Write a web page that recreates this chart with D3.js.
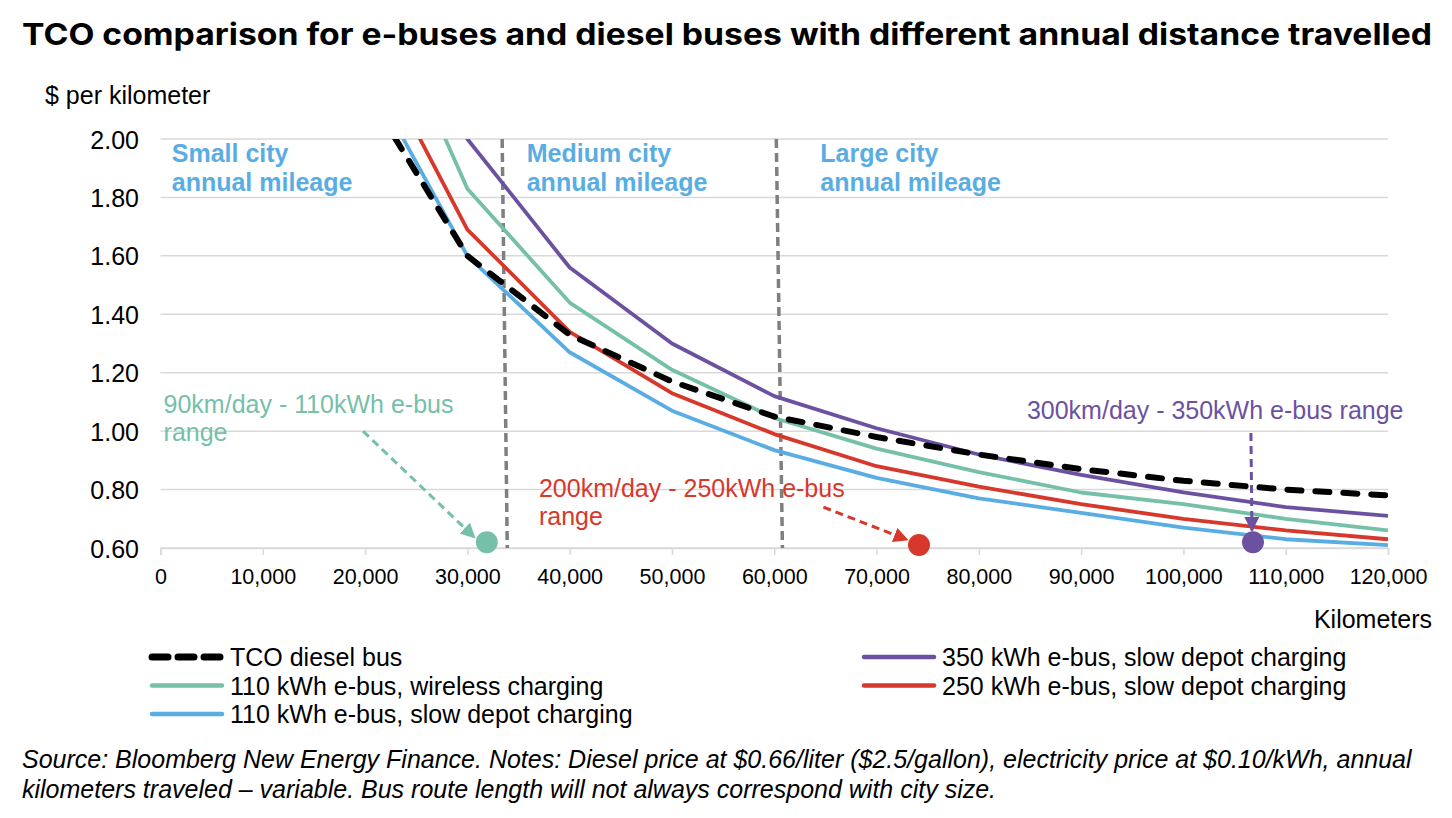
<!DOCTYPE html>
<html><head><meta charset="utf-8">
<script src="https://cdn.jsdelivr.net/npm/d3@7"></script>
<style>
html,body{margin:0;padding:0;background:#fff;}
svg{display:block;}
text{font-family:"Liberation Sans",Arial,sans-serif;}
</style></head>
<body><svg id="c" width="1452" height="818"></svg>
<script>
// ---- data ----
const distances = [20000, 30000, 40000, 50000, 60000, 70000, 80000, 90000, 100000, 110000, 120000];
const dieselBus     = [2.17, 1.60, 1.33, 1.17, 1.05, 0.98, 0.92, 0.87, 0.83, 0.80, 0.78];
const wireless110   = [2.62, 1.83, 1.44, 1.21, 1.045, 0.94, 0.86, 0.79, 0.75, 0.70, 0.66];
const depot110      = [2.24, 1.60, 1.27, 1.07, 0.935, 0.84, 0.77, 0.72, 0.67, 0.63, 0.61];
const depot350      = [2.80, 2.00, 1.56, 1.30, 1.12, 1.01, 0.92, 0.85, 0.79, 0.74, 0.71];
const depot250      = [2.36, 1.69, 1.34, 1.13, 0.99, 0.88, 0.81, 0.75, 0.70, 0.66, 0.63];
const seriesNames = ["TCO diesel bus", "110 kWh e-bus, wireless charging", "110 kWh e-bus, slow depot charging",
                     "350 kWh e-bus, slow depot charging", "250 kWh e-bus, slow depot charging"];
const xTicks = [0, 10000, 20000, 30000, 40000, 50000, 60000, 70000, 80000, 90000, 100000, 110000, 120000];
const yTicks = [0.60, 0.80, 1.00, 1.20, 1.40, 1.60, 1.80, 2.00];
// city boundaries (km at top, km at bottom of plot)
const cityBoundTop = [33400, 60200];
const cityBoundBottom = [33900, 60800];
const cityLabels = [["Small city", "annual mileage"], ["Medium city", "annual mileage"], ["Large city", "annual mileage"]];
const cityLabelKm = [1100, 35800, 64500];
// range annotations: text anchor, arrow start, arrow end, dot (km, $/km)
const rangeText = [["90km/day - 110kWh e-bus", "range"], ["200km/day - 250kWh e-bus", "range"], ["300km/day - 350kWh e-bus range"]];
const rangeTextKm = [300, 37000, 84700];
const rangeTextVal = [1.063, 0.775, 1.04];
const arrowFromKm = [19800, 64800, 106600];
const arrowFromVal = [1.00, 0.74, 0.994];
const arrowToKm = [30700, 73000, 106700];
const arrowToVal = [0.636, 0.628, 0.66];
const dotKm = [31900, 74150, 106800];
const dotVal = [0.62, 0.61, 0.62];

// ---- styles ----
const colors = ["#000000", "#76c0a9", "#5aade3", "#6d51a1", "#d7382c"];
const series = [dieselBus, wireless110, depot110, depot350, depot250];
const rangeColors = [colors[1], colors[4], colors[3]];
const FS = "25px";

const svg = d3.select("#c");
svg.append("rect").attr("width", 1452).attr("height", 818).attr("fill", "#fff");

const x = d3.scaleLinear().domain([0, 120000]).range([160.5, 1388]);
const y = d3.scaleLinear().domain([0.6, 2.0]).range([548, 139]);

// title
const title = svg.append("text").attr("x", 22).attr("y", 45)
  .style("font-family", "Inter, 'Open Sans', sans-serif").style("font-weight", 700).style("font-size", "30px")
  .attr("fill", "#000").text("TCO comparison for e-buses and diesel buses with different annual distance travelled");
title.attr("textLength", 1410).attr("lengthAdjust", "spacingAndGlyphs");

svg.append("text").attr("x", 45).attr("y", 104).style("font-size", FS).text("$ per kilometer");

// gridlines
svg.append("g").selectAll("line").data(yTicks).join("line")
  .attr("x1", x(0)).attr("x2", x(120000)).attr("y1", d => y(d)).attr("y2", d => y(d))
  .attr("stroke", "#d9d9d9").attr("stroke-width", 1.5);

// y axis labels
const yAxis = d3.axisLeft(y).tickValues(yTicks).tickFormat(d3.format(".2f")).tickSize(0).tickPadding(0);
const yg = svg.append("g").attr("transform", "translate(139,0)").call(yAxis);
yg.select(".domain").remove();
yg.selectAll("text").style("font-size", FS).style("font-family", "'Liberation Sans',Arial,sans-serif").attr("fill", "#000").attr("dy", "0.36em");

// x axis
const xAxis = d3.axisBottom(x).tickValues(xTicks).tickFormat(d3.format(",")).tickSize(7).tickPadding(14);
const xg = svg.append("g").attr("transform", `translate(0,${y(0.6)})`).call(xAxis);
xg.select(".domain").attr("stroke", "#d9d9d9").attr("stroke-width", 1.5);
xg.selectAll(".tick line").attr("stroke", "#d9d9d9").attr("stroke-width", 1.5);
xg.selectAll("text").style("font-size", "21.5px").style("font-family", "'Liberation Sans',Arial,sans-serif").attr("fill", "#000");

svg.append("text").attr("x", 1432).attr("y", 628).attr("text-anchor", "end").style("font-size", FS).text("Kilometers");

// clip
svg.append("clipPath").attr("id", "plotclip").append("rect")
  .attr("x", x(0)).attr("y", y(2.0)).attr("width", x(120000) - x(0)).attr("height", y(0.6) - y(2.0) + 20);

// city boundaries
svg.append("g").selectAll("line").data(cityBoundTop).join("line")
  .attr("x1", d => x(d)).attr("y1", y(2.0))
  .attr("x2", (d, i) => x(cityBoundBottom[i])).attr("y2", y(0.6))
  .attr("stroke", "#7f7f7f").attr("stroke-width", 3.5).attr("stroke-dasharray", "9,5");

// city labels
const cl = svg.append("g").selectAll("text").data(cityLabels).join("text")
  .attr("x", (d, i) => x(cityLabelKm[i])).attr("y", 162)
  .style("font-size", FS).style("font-weight", 700).attr("fill", "#5aade3");
cl.selectAll("tspan").data(d => d).join("tspan")
  .attr("x", function () { return d3.select(this.parentNode).attr("x"); })
  .attr("dy", (d, i) => i === 0 ? 0 : 28.5).text(d => d);

// series lines
const line = d3.line().x((d, i) => x(distances[i])).y(d => y(d));
const lg = svg.append("g").attr("clip-path", "url(#plotclip)");
const order = [4, 3, 1, 2, 0];
order.forEach(k => {
  const p = lg.append("path").datum(series[k]).attr("d", line).attr("fill", "none")
    .attr("stroke", colors[k]).attr("stroke-linejoin", "round");
  if (k === 0) {
    p.attr("stroke-width", 6).attr("stroke-dasharray", "14,14").attr("stroke-linecap", "round");
  } else {
    p.attr("stroke-width", 3.8);
  }
});

// arrowheads
const defs = svg.append("defs");
rangeColors.forEach((c, i) => {
  defs.append("marker").attr("id", "arr" + i).attr("viewBox", "0 0 10 10").attr("refX", 9).attr("refY", 5)
    .attr("markerWidth", 5).attr("markerHeight", 5).attr("orient", "auto").attr("markerUnits", "strokeWidth")
    .append("path").attr("d", "M0,0 L10,5 L0,10 z").attr("fill", c);
});

// arrows
svg.append("g").selectAll("line").data(arrowFromKm).join("line")
  .attr("x1", d => x(d)).attr("y1", (d, i) => y(arrowFromVal[i]))
  .attr("x2", (d, i) => x(arrowToKm[i])).attr("y2", (d, i) => y(arrowToVal[i]))
  .attr("stroke", (d, i) => rangeColors[i]).attr("stroke-width", 3).attr("stroke-dasharray", "8,5")
  .attr("marker-end", (d, i) => `url(#arr${i})`);

// dots
svg.append("g").selectAll("circle").data(dotKm).join("circle")
  .attr("cx", d => x(d)).attr("cy", (d, i) => y(dotVal[i])).attr("r", 11)
  .attr("fill", (d, i) => rangeColors[i]);

// range texts
const rt = svg.append("g").selectAll("text").data(rangeText).join("text")
  .attr("x", (d, i) => x(rangeTextKm[i])).attr("y", (d, i) => y(rangeTextVal[i]))
  .style("font-size", FS).attr("fill", (d, i) => rangeColors[i]);
rt.selectAll("tspan").data(d => d).join("tspan")
  .attr("x", function () { return d3.select(this.parentNode).attr("x"); })
  .attr("dy", (d, i) => i === 0 ? 0 : 28).text(d => d);

// legend
const legendCol = [0, 0, 0, 1, 1];
const legendRow = [0, 1, 2, 0, 1];
const legX = [150, 862];
const lgd = svg.append("g").selectAll("g").data(seriesNames).join("g")
  .attr("transform", (d, i) => `translate(${legX[legendCol[i]]},${657 + legendRow[i] * 28.5})`);
lgd.append("line").attr("x1", 2).attr("x2", 72).attr("y1", 0).attr("y2", 0)
  .attr("stroke", (d, i) => colors[i])
  .attr("stroke-width", (d, i) => i === 0 ? 7 : 4.5)
  .attr("stroke-linecap", "round")
  .attr("stroke-dasharray", (d, i) => i === 0 ? "16,10" : null);
lgd.append("text").attr("x", 80).attr("y", 0).attr("dy", "0.36em").style("font-size", FS).text(d => d);

// source note
const src = ["Source: Bloomberg New Energy Finance. Notes: Diesel price at $0.66/liter ($2.5/gallon), electricity price at $0.10/kWh, annual",
             "kilometers traveled \u2013 variable. Bus route length will not always correspond with city size."];
svg.append("g").selectAll("text").data(src).join("text")
  .attr("x", 22).attr("y", (d, i) => 768 + i * 30)
  .style("font-size", FS).style("font-style", "italic").text(d => d);
</script></body></html>
